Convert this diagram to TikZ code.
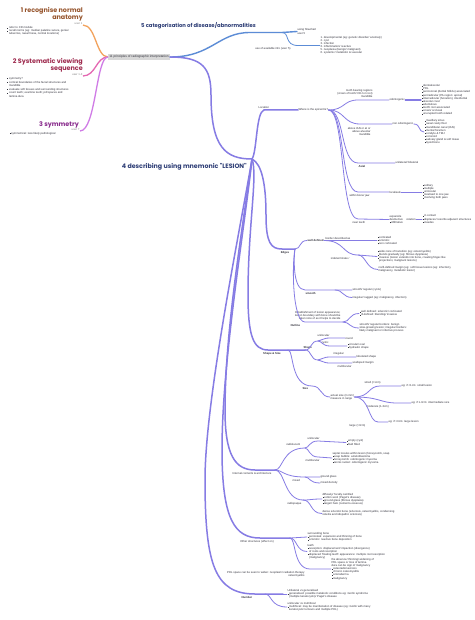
\documentclass[tikz,border=0pt]{standalone}
\usepackage{fontspec}
\setmainfont{Liberation Sans}
\newfontfamily\titlefont{Poppins}
\definecolor{lc}{RGB}{134,124,228}
\definecolor{bc}{RGB}{92,140,214}
\definecolor{txtc}{RGB}{50,50,60}
\definecolor{hubc}{RGB}{216,216,216}
\definecolor{cA}{RGB}{150,84,44}
\definecolor{cAl}{RGB}{242,162,92}
\definecolor{cB}{RGB}{158,42,78}
\definecolor{cBl}{RGB}{228,104,178}
\definecolor{cC}{RGB}{136,42,140}
\definecolor{cCl}{RGB}{208,124,230}
\definecolor{tq}{RGB}{46,62,118}
\newcommand\mmb{\rule[0.3pt]{0.85pt}{0.85pt}\hspace{0.8pt}}
\newcommand\mmp{\phantom{\mmb}}
\tikzset{
  tx/.style={font=\fontsize{2.8}{3.1}\selectfont, text=txtc, inner sep=0.3pt, align=left},
  bx/.style={tx, font=\fontsize{2.8}{3.1}\selectfont\bfseries},
  ttl/.style={font=\titlefont\bfseries\fontsize{6.4}{8}\selectfont, inner sep=0pt},
  ttm/.style={font=\titlefont\bfseries\fontsize{5.3}{7}\selectfont, inner sep=0pt, text=tq},
  ml/.style={draw=lc, line width=1.5pt, line cap=round},
  sl/.style={draw=lc, line width=0.8pt, line cap=round},
  bl/.style={draw=bc, line width=1.4pt, line cap=round},
  bls/.style={draw=bc, line width=0.8pt, line cap=round},
}
\begin{document}
\begin{tikzpicture}[x=1pt,y=-1pt]
\useasboundingbox (0,0) rectangle (474,620);
\fill[white] (0,0) rectangle (474,620);

% ---------- hub ----------
\node[tx, font=\fontsize{3.2}{3.6}\selectfont, fill=hubc, inner xsep=1.2pt, inner ysep=1.6pt] (hub) at (139,57) {11 principles of radiographic interpretation};

% ---------- left side ----------
\node[ttl, text=cA, anchor=base east] (t1a) at (83,12.3) {1 recognise normal};
\node[ttl, text=cA, anchor=base east] (t1b) at (83,20) {anatomy};
\node[tx, anchor=east, text=gray] (u1) at (83,23.6) {user 1};
\node[tx, anchor=north west] (b1) at (7,26.2) {\mmb refer to CR module\\\mmb recall norms (eg: median palatine suture, genial\\\mmp tubercles, nasal fossa, normal locations)};
\draw[draw=cAl, line width=1.3pt] (hub.west) .. controls (96,57) and (96,25) .. (u1.south east);

\node[ttl, text=cB, anchor=base east] (t2a) at (83,63.3) {2 Systematic viewing};
\node[ttl, text=cB, anchor=base east] (t2b) at (83,71) {sequence};
\node[tx, anchor=east, text=gray] (u2) at (83,74.5) {user 1-3};
\node[tx, anchor=north west, font=\fontsize{2.8}{3.6}\selectfont] (b2) at (7,77) {\mmb symmetry?\\\mmb cortical boundaries of the facial structures and\\\mmp mandible\\\mmb evaluate soft tissues and surrounding structures\\\mmb count teeth; examine teeth; pdl spaces and\\\mmp lamina dura};
\draw[draw=cBl, line width=1.3pt] (hub.west) .. controls (96,57) and (96,75.8) .. (u2.south east);

\node[ttl, text=cC, anchor=base east] (t3) at (79,127) {3 symmetry};
\node[tx, anchor=east, text=gray] (u3) at (80,129.5) {user ?};
\node[tx, anchor=north west] (b3) at (9,131.8) {\mmb symmetrical: less likely pathological};
\draw[draw=cCl, line width=1.3pt] (hub.west) .. controls (96,57) and (96,130.8) .. (u3.south east);

% ---------- 5 categorisation ----------
\node[ttm, anchor=base west] (t5) at (141,28) {5 categorisation of disease/abnormalities};
\coordinate (k5) at (282,32.5);
\node[tx, anchor=west] (uf) at (297,31.5) {using flowchart\\user 5};
\node[tx, anchor=west] (cl) at (320,45.5) {1. developmental (eg: genetic disorder/ anomaly)\\2. cyst\\3. infection\\4. inflammation/ reactive\\5. neoplasia (benign/ malignant)\\6. systemic/ metabolic \& vascular};
\node[tx, anchor=north east] (ua) at (291,47.3) {use of available info (user 5)};
\draw[bl] (hub.east) .. controls (212,57) and (218,32.5) .. (250,32.5) -- (k5) -- (uf.west);
\draw[bls] (k5) .. controls (290,32.5) and (284,45.5) .. (298,45.5) -- (cl.west);

% ---------- 4 LESION ----------
\coordinate (P) at (252,159);
\node[ttm, font=\titlefont\bfseries\fontsize{6.3}{8}\selectfont, anchor=base east] (t4) at (247,168.8) {4 describing using mnemonic "LESION"};
\draw[ml] (hub.east) .. controls (203,57) and (211,68) .. (211,95) .. controls (211,148) and (226,159) .. (P);

% Location
\node[tx, anchor=south west] (loc) at (258,109.3) {Location};
\node[tx, anchor=west] (epi) at (298,110) {Where is the epicentre?};
\draw[ml] (P) .. controls (257,152) and (256,112) .. (264,110) -- (epi.west);

\node[tx, anchor=west] (odo) at (389,100) {odontogenic};
\node[tx, anchor=west] (odl) at (421,100) {\mmb dentoalveolar\\\mmb PDL\\\mmb pericoronal (dental follicle) associated\\\mmb periradicular (PA region: apical)\\\mmb interradicular (furcation), interdental\\\mmb alveolar crest\\\mmb edentulous\\\mmb tooth/ root associated\\\mmb crown/ occlusal\\\mmb unerupted tooth related};
\node[tx, align=right, anchor=south east] (odt) at (373,98) {tooth bearing regions\\(crown of tooth/ CEJ or root)\\mandible};
\draw[sl] (epi.east) .. controls (345,110) and (343,100) .. (358,100) -- (odo.west);
\draw[sl, line width=1.1pt] (odo.east) -- (odl.west);

\node[tx, anchor=west] (nod) at (392,124) {non odontogenic};
\node[tx, anchor=west] (ndl) at (424,132) {\mmb maxillary sinus\\\mmb nasal cavity floor\\\mmb mandibular canal (IAN)\\\mmb mental foramen\\\mmb condyle \& TMJ\\\mmb coronoid\\\mmb salivary gland \& soft tissue\\\mmb hyoid bone};
\node[tx, align=right, anchor=north east] (ndt) at (371,126.5) {above IAN or at or\\above alveolar\\mandible};
\draw[sl] (epi.east) .. controls (345,110) and (343,124) .. (360,124) -- (nod.west);
\draw[sl] (nod.east) .. controls (421,124) and (418,132) .. (ndl.west);

\node[tx, anchor=west] (ax) at (395,163) {unilateral/ bilateral};
\node[bx, anchor=north west] (axl) at (358,164.5) {Axial};
\draw[sl] (epi.east) .. controls (345,110) and (340,163) .. (358,163) -- (ax.west);

\node[tx, anchor=west] (ext) at (389,192) {localised};
\node[tx, anchor=west] (exl) at (422,192) {\mmb solitary\\\mmb multiple\\\mmb unilocular\\\mmb localised to one jaw\\\mmb involving both jaws};
\node[tx, anchor=north west] (extl) at (349,194) {within bone/ jaw};
\draw[sl] (epi.east) .. controls (345,110) and (340,192) .. (358,192) -- (ext.west);
\draw[sl] (ext.east) -- (exl.west);

\node[tx, anchor=west] (rel) at (389,219.5) {expansile\\destructive\\\mmb infiltrative};
\node[tx, anchor=west] (rlw) at (406,219) {relation};
\node[tx, anchor=west] (rll) at (422,219) {\mmb in contact\\\mmb displaces/ resorbs adjacent structures\\\mmb invades};
\node[tx, anchor=north west] (rell) at (352,221) {near teeth};
\draw[sl] (epi.east) .. controls (345,110) and (340,219) .. (358,219) -- (rel.west);
\draw[sl] (rlw.east) -- (rll.west);

% Edges
\coordinate (eJ) at (295,249);
\node[bx, anchor=north] (edg) at (285,250.5) {Edges};
\draw[ml] (P) .. controls (262,164) and (266,185) .. (266,215) .. controls (266,243) and (271,249) .. (282,249) -- (eJ);

\node[bx, anchor=west] (wd) at (307,240.5) {well defined};
\node[tx, anchor=south] (wda) at (338,240) {border described as};
\node[tx, anchor=west] (wdl) at (377,240.5) {\mmb corticated\\\mmb sclerotic\\\mmb non corticated};
\draw[sl] (eJ) .. controls (301,249) and (299,240.5) .. (wd.west);
\draw[sl] (wd.east) -- (wdl.west);

\coordinate (idk) at (358,255);
\node[tx, anchor=west] (idl) at (377,256.5) {\mmb wide zone of transition (eg: osteomyelitis)\\\mmb blends gradually (eg: fibrous dysplasia)\\\mmb invasive (lesion extends into bone, creating finger-like\\\mmp projections; malignant lesions)};
\node[tx, anchor=north east] (idt) at (350,257) {indeterminate /};
\node[tx, anchor=west] (nim) at (378,269.5) {no/ill-defined margin (eg: soft tissue lesions (eg: infection),\\malignancy, metabolic lesion)};
\draw[sl] (wd.east) .. controls (345,240.5) and (342,255) .. (idk) -- (idl.west);
\draw[sl] (idk) .. controls (366,255) and (366,269.5) .. (nim.west);

\coordinate (smk) at (335,290);
\node[bx, anchor=north west] (smo) at (305,291.5) {smooth};
\node[tx, anchor=west] (sme) at (352,290) {smooth/ regular (cysts)};
\node[tx, anchor=west] (sm2) at (352,297.5) {irregular/ ragged (eg: malignancy, infection)};
\draw[sl] (eJ) .. controls (294,255) and (292,290) .. (305,290) -- (sme.west);
\draw[sl] (smk) .. controls (343,290) and (343,297.5) .. (sm2.west);

\coordinate (otk) at (343,322);
\node[bx, anchor=north west] (otl) at (290,323.5) {Outline};
\node[tx, align=right, anchor=south east] (ott) at (341,320.5) {Establishment of lesion appearance;\\lesion boundary with bone should be\\taken note of as it helps to decide};
\node[tx, anchor=west] (ou) at (359,313.5) {\mmb well defined: sclerotic/ corticated\\\mmb ill-defined: blending/ invasive};
\node[tx, anchor=west] (ol) at (359,328) {smooth/ regular borders: benign\\slow-growing lesion; irregular borders:\\likely malignant or infective process};
\draw[sl] (eJ) .. controls (292,262) and (292,322) .. (305,322) -- (otk);
\draw[sl] (otk) .. controls (350,322) and (349,313.5) .. (ou.west);
\draw[sl] (otk) .. controls (350,322) and (349,328) .. (ol.west);

% Shape & Size
\coordinate (sJ) at (305,350);
\coordinate (sK) at (288,350);
\node[bx, anchor=north] (shs) at (272,351.5) {Shape \& Size};
\draw[ml] (P) .. controls (258,175) and (248,225) .. (248,295) .. controls (248,335) and (253,350) .. (268,350) -- (sJ);
\node[bx, anchor=south west] (shp) at (303,349.3) {Shape};
\coordinate (su) at (318,341);
\coordinate (sd) at (318,360);
\node[tx, anchor=west] (rnd) at (345,338) {round};
\node[tx, anchor=south west] (rndl) at (317,336.6) {unilocular};
\node[tx, anchor=west] (ovl) at (347,346) {\mmb circular/ oval\\\mmb hydraulic shape};
\node[tx, anchor=south west] (ovll) at (321,344.6) {cystic};
\node[tx, anchor=west] (lob) at (356,357) {lobulated shape};
\node[tx, anchor=south west] (lobl) at (333,355.6) {irregular};
\node[tx, anchor=west] (scl) at (352,363) {scalloped margin};
\node[tx, anchor=north west] (scll) at (337,364.5) {multilocular};
\draw[sl] (sJ) .. controls (312,350) and (310,341) .. (su);
\draw[sl] (su) .. controls (322,341) and (322,338) .. (330,338) -- (rnd.west);
\draw[sl] (su) .. controls (322,341) and (322,346) .. (330,346) -- (ovl.west);
\draw[sl] (sJ) .. controls (312,350) and (310,360) .. (sd);
\draw[sl] (sd) .. controls (322,360) and (322,357) .. (330,357) -- (lob.west);
\draw[sl] (sd) .. controls (322,360) and (322,363) .. (330,363) -- (scl.west);

\node[bx, anchor=north west] (siz) at (302,387) {Size};
\node[tx, anchor=west] (szt) at (330,397) {actual size (in mm)\\measure in range};
\draw[sl] (sK) .. controls (294,350) and (290,386) .. (312,386) .. controls (322,386) and (320,397) .. (szt.west);
\node[tx, anchor=west] (sz1) at (401,386) {eg: if <1cm: small lesion};
\node[tx, anchor=south west] (sz1l) at (364,384.6) {small (<1cm)};
\node[tx, anchor=west] (sz2) at (411,403) {eg: if 1-3cm: intermediate size};
\node[tx, anchor=north west] (sz2l) at (366,404.5) {moderate (1-3cm)};
\node[tx, anchor=west] (sz3) at (388,422) {eg: if >3cm: large lesion};
\node[tx, anchor=north west] (sz3l) at (349,423.5) {large (>3cm)};
\draw[sl] (szt.east) .. controls (370,397) and (368,386) .. (380,386) -- (sz1.west);
\draw[sl] (szt.east) .. controls (380,397) and (380,403) .. (397,403) -- (sz2.west);
\draw[sl] (szt.east) .. controls (370,397) and (368,422) .. (378,422) -- (sz3.west);

% Internal
\coordinate (iJ) at (275,470);
\node[tx, anchor=north] (int) at (252,471.5) {Internal contents \& architecture};
\draw[ml] (P) .. controls (243,225) and (225,330) .. (225,410) .. controls (225,455) and (235,470) .. (255,470) -- (iJ);
\coordinate (rJ) at (305,448);
\node[tx, anchor=south west] (rlu) at (286,446.4) {radiolucent};
\node[tx, anchor=south west] (rul) at (307,440) {unilocular};
\node[tx, anchor=west] (ru) at (346,442.5) {\mmb empty (cyst)\\\mmb fluid filled};
\node[tx, anchor=north west] (rml) at (305,458.5) {multilocular};
\node[tx, anchor=west] (rm) at (332,458) {septa/ locules within lesion (honeycomb, soap\\\mmb soap bubble: ameloblastoma\\\mmb honeycomb: odontogenic myxoma\\\mmb tennis racket: odontogenic myxoma};
\draw[sl] (iJ) .. controls (283,470) and (282,448) .. (rJ);
\draw[sl] (rJ) .. controls (309,448) and (309,441) .. (318,441) -- (ru.west);
\draw[sl] (rJ) .. controls (309,448) and (309,457) .. (318,457) -- (rm.west);

\coordinate (mxk) at (305,477);
\node[tx, anchor=west] (mx1) at (320,477) {ground glass};
\node[tx, anchor=west] (mx2) at (320,483) {mixed density};
\node[tx, anchor=north west] (mxl) at (292,478.5) {mixed};
\draw[sl] (iJ) .. controls (283,470) and (283,477) .. (mxk) -- (mx1.west);
\draw[sl] (mxk) .. controls (310,477) and (309,483) .. (mx2.west);

\coordinate (rpJ) at (303,500);
\node[tx, anchor=north west] (rpl) at (287,501.5) {radiopaque};
\node[tx, anchor=west] (ro1) at (322,499) {diffusely/ focally calcified\\\mmb cotton wool (Paget's disease)\\\mmb ground glass (fibrous dysplasia)\\\mmb target/ halo (cemento-osseous)};
\node[tx, anchor=west] (ro2) at (322,513.5) {dense sclerotic bone (sclerosis, osteomyelitis, condensing\\osteitis and idiopathic sclerosis)};
\draw[sl] (iJ) .. controls (285,470) and (284,500) .. (rpJ);
\draw[sl] (rpJ) .. controls (312,500) and (310,499) .. (ro1.west);
\draw[sl] (rpJ) .. controls (312,500) and (310,513.5) .. (ro2.west);

% Other structures
\coordinate (oJ) at (290,538);
\node[tx, anchor=north] (oth) at (257,539.5) {Other structures (effect on)};
\draw[ml] (P) .. controls (245,225) and (222,360) .. (222,450) .. controls (222,520) and (235,538) .. (260,538) -- (oJ);
\node[tx, anchor=west] (ob1) at (307,537) {surrounding bone\\\mmb periosteal: expansion and thinning of bone\\\mmb sclerotic: reactive bone deposition};
\node[tx, anchor=west] (ob2) at (307,551.5) {teeth\\\mmb resorption: displacement/ impaction (divergence)\\\mmp of roots and resorption\\\mmb displaced 'floating teeth' appearance: multiple root resorption\\\mmp (malignancy)};
\node[tx, anchor=west] (ob3) at (331,569) {the absence/ thinning/ widening of\\PDL space or loss of lamina\\dura can be sign of malignancy\\\mmb osteoradionecrosis\\\mmb chronic osteomyelitis\\\mmb scleroderma\\\mmb malignancy};
\node[tx, align=right, anchor=north east] (pdl) at (305,571) {PDL space can be seen to widen: neoplasm/ radiation therapy\\osteomyelitis};
\draw[sl] (oJ) -- (ob1.west);
\draw[sl] (oJ) .. controls (297,538) and (296,551.5) .. (ob2.west);
\draw[sl] (oJ) .. controls (296,538) and (293,569) .. (310,569) -- (ob3.west);

% Number
\coordinate (nJ) at (283,594);
\coordinate (nK) at (265,594);
\node[bx, anchor=north] (num) at (247,595.5) {Number};
\draw[ml] (P) .. controls (240,230) and (205,400) .. (205,480) .. controls (205,565) and (215,594) .. (255,594) -- (nJ);
\node[tx, anchor=west] (nb1) at (287,594) {Unilateral vs generalised\\\mmb generalised: possible metabolic conditions eg: Gorlin syndrome\\\mmp (multiple keratocysts)/ Paget's disease};
\node[tx, anchor=west] (nb2) at (287,607) {unilocular vs multifocal\\\mmb multifocal: may be manifestation of disease (eg: Gorlin with many\\\mmp keratocystic tumours and multiple PDL)};
\draw[sl] (nJ) -- (nb1.west);
\draw[sl] (nK) .. controls (272,594) and (270,607) .. (nb2.west);

\end{tikzpicture}
\end{document}
